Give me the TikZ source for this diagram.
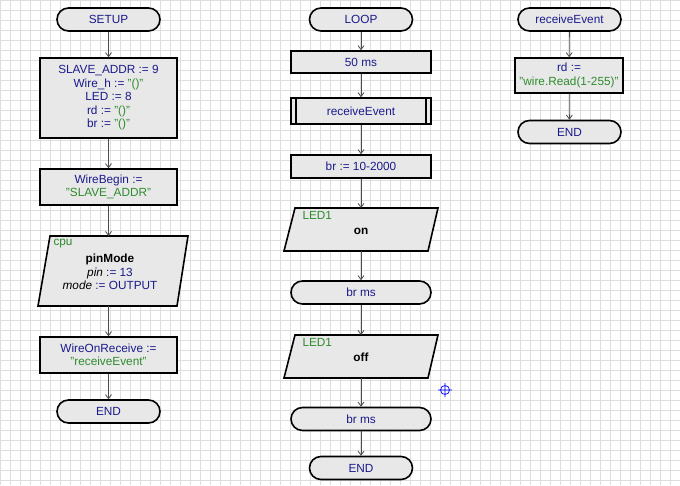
\documentclass[tikz,border=0pt]{standalone}
\usepackage{fontspec}
\setmainfont{Liberation Sans}
\usetikzlibrary{arrows.meta}
\definecolor{tx}{HTML}{1A1A8C}
\definecolor{st}{HTML}{2E8B2E}
\definecolor{fl}{HTML}{E8E8E8}
\begin{document}
\begin{tikzpicture}[x=1pt,y=-1pt,
  base/.style={draw=black,line width=1.6pt,fill=fl,text=tx,font=\fontsize{11.8}{13.5}\selectfont,align=center,inner sep=0pt},
  box/.style={base,rectangle,minimum width=137pt,minimum height=#1},
  term/.style={base,rounded corners=11.5pt,minimum width=103pt,minimum height=23pt},
  para/.style={draw=black,line width=1.6pt,fill=fl,line join=miter},
  lbl/.style={font=\fontsize{11.8}{13.5}\selectfont,align=center},
  arr/.style={draw=black!70,line width=0.8pt,-{Straight Barb[length=4pt,width=6pt]}}]
\useasboundingbox (0,0) rectangle (680,485);
\fill[white] (0,0) rectangle (680,485);
\foreach \i in {0,10,...,680} \draw[black!13,line width=0.4pt] (\i,0) -- (\i,485);
\foreach \j in {0,10,...,480} \draw[black!13,line width=0.4pt] (0,\j) -- (680,\j);
% column 1
\node[term] (s) at (108.5,19.5) {SETUP};
\node[box=80pt] (a1) at (108.5,98) {SLAVE\_ADDR := 9\\Wire\_h := \textcolor{st}{"()"}\\LED := 8\\rd := \textcolor{st}{"()"}\\br := \textcolor{st}{"()"}};
\node[box=36pt] (a2) at (108.5,187) {WireBegin :=\\\textcolor{st}{"SLAVE\_ADDR"}};
\draw[para] (50,236) -- (188,236) -- (177,306) -- (38,306) -- cycle;
\coordinate (a3t) at (108.5,236);
\coordinate (a3b) at (108.5,306);
\node[lbl,text=tx] (a3) at (110,272) {\textcolor{black}{\bfseries pinMode}\\\textit{\textcolor{black}{pin}} := 13\\\textit{\textcolor{black}{mode}} := OUTPUT};
\node[lbl,text=st,anchor=west] (a3l) at (50,244) {cpu};
\node[box=36pt] (a4) at (108.5,355) {WireOnReceive :=\\\textcolor{st}{"receiveEvent"}};
\node[term] (e1) at (108.5,411.5) {END};
\draw[arr] (s) -- (a1);
\draw[arr] (a1) -- (a2);
\draw[arr] (a2) -- (a3t);
\draw[arr] (a3b) -- (a4);
\draw[arr] (a4) -- (e1);
% column 2
\node[term] (l) at (361,19.5) {LOOP};
\node[box=22pt,minimum width=140pt] (b1) at (361,62) {50 ms};
\node[box=26pt,minimum width=140pt] (b2) at (361,111) {receiveEvent};
\draw[line width=1.6pt] ([xshift=6pt]b2.north west) -- ([xshift=6pt]b2.south west)
  ([xshift=-6pt]b2.north east) -- ([xshift=-6pt]b2.south east);
\node[box=23pt,minimum width=140pt] (b3) at (361,166.5) {br := 10-2000};
\draw[para] (295,208) -- (438,208) -- (428,251) -- (284,251) -- cycle;
\coordinate (b4t) at (361,208); \coordinate (b4b) at (361,251);
\node[lbl,font=\bfseries\fontsize{11.8}{13.5}\selectfont] (b4) at (361,231) {on};
\node[lbl,text=st,anchor=west] (b4l) at (299,215) {LED1};
\node[term,minimum width=140pt] (b5) at (361,292.5) {br ms};
\draw[para] (295,335) -- (438,335) -- (428,378) -- (284,378) -- cycle;
\coordinate (b6t) at (361,335); \coordinate (b6b) at (361,378);
\node[lbl,font=\bfseries\fontsize{11.8}{13.5}\selectfont] (b6) at (361,357) {off};
\node[lbl,text=st,anchor=west] (b6l) at (299,342) {LED1};
\node[term,minimum width=140pt] (b7) at (361,419) {br ms};
\node[term] (e2) at (361,468) {END};
\draw[arr] (l) -- (b1);
\draw[arr] (b1) -- (b2);
\draw[arr] (b2) -- (b3);
\draw[arr] (b3) -- (b4t);
\draw[arr] (b4b) -- (b5);
\draw[arr] (b5) -- (b6t);
\draw[arr] (b6b) -- (b7);
\draw[arr] (b7) -- (e2);
% column 3
\node[term] (r) at (569.5,19.5) {receiveEvent};
\node[box=35pt,minimum width=108pt] (c1) at (569,75.5) {rd :=\\\textcolor{st}{"wire.Read(1-255)"}};
\node[term] (e3) at (569.5,132) {END};
\draw[arr] (r) -- (c1);
\draw[arr] (c1) -- (e3);
% crosshair
\draw[blue,line width=0.7pt] (445,390) circle (4.5) (438,390) -- (452,390) (445,383) -- (445,397);
\end{tikzpicture}
\end{document}
